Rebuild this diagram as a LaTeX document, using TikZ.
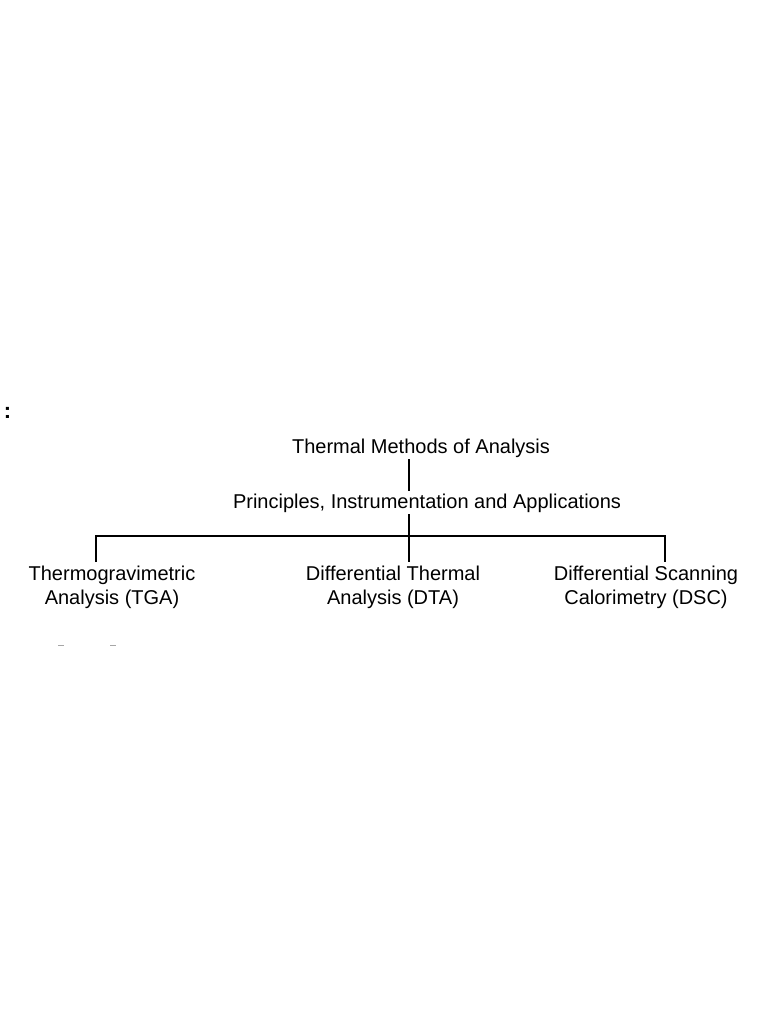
\documentclass[tikz,border=0pt]{standalone}
\usepackage{fontspec}
\setmainfont{Liberation Sans}
\usetikzlibrary{calc}
\begin{document}
\begin{tikzpicture}[x=1pt,y=-1pt,
  lbl/.style={font=\fontsize{20}{23.5}\selectfont, inner sep=0pt, align=center, text=black},
  conn/.style={line width=2.8pt, draw=black},
  faint/.style={line width=1pt, draw=black!35}]
\useasboundingbox (0,0) rectangle (768,1024);
\fill[white] (0,0) rectangle (768,1024);
% colon at left
\node[lbl, font=\bfseries\fontsize{22}{24}\selectfont, anchor=base] (colon) at (7.5,418.5) {:};
% texts
\node[lbl, anchor=base] (title) at (421,453) {Thermal Methods of Analysis};
\node[lbl, anchor=base] (sub) at (427,508) {Principles, Instrumentation and Applications};
\node[lbl, anchor=north] (tga) at (112,566) {Thermogravimetric\\Analysis (TGA)};
\node[lbl, anchor=north] (dta) at (393,566) {Differential Thermal\\Analysis (DTA)};
\node[lbl, anchor=north] (dsc) at (646,566) {Differential Scanning\\Calorimetry (DSC)};
% connector coordinates
\coordinate (spine) at (409,0);
\coordinate (bar) at (0,536);
\coordinate (tgax) at (96,0);
\coordinate (dscx) at (665,0);
% connectors
\draw[conn] ([yshift=-2pt]title.south -| spine) -- ([yshift=2pt]sub.north -| spine);
\draw[conn] ([yshift=-2pt]sub.south -| spine) -- ([yshift=4pt]dta.north -| spine);
\draw[conn] ([yshift=4pt]tga.north -| tgax) |- (bar -| dscx) -- ([yshift=4pt]dsc.north -| dscx);
% faint marks below
\coordinate (m1a) at (58,645); \coordinate (m1b) at (64,645);
\coordinate (m2a) at (110,645); \coordinate (m2b) at (116,645);
\draw[faint] (m1a) -- (m1b);
\draw[faint] (m2a) -- (m2b);
\end{tikzpicture}
\end{document}
